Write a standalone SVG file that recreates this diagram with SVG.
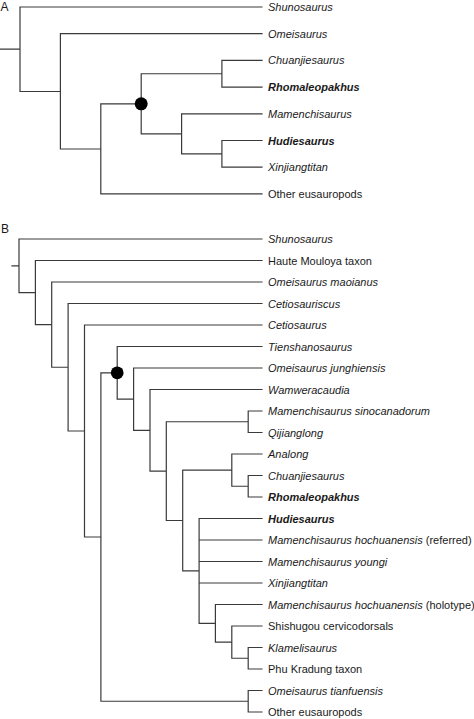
<svg xmlns="http://www.w3.org/2000/svg" width="474" height="719" viewBox="0 0 474 719">
<style>
text{font-family:"Liberation Sans",Arial,sans-serif;font-size:11px;fill:#1a1a1a}
.i{font-style:italic}
.b{font-style:italic;font-weight:bold}
.p{font-size:12px}
.ln{fill:none;stroke:#3a3a3a;stroke-width:1.2;stroke-linecap:square}
.dot{fill:#000}
</style>
<rect width="474" height="719" fill="#fff"/>
<g id="panel-labels">
<text class="p" x="0.5" y="10.5">A</text>
<text class="p" x="1" y="233">B</text>
</g>
<g id="connectors" class="ln">
<path d="M0,49.2H20M20,7V91.5M20,7H262M20,91.5H60.4M60.4,33.7V149M60.4,33.7H262M60.4,149H100.8M100.8,103.8V193.9M100.8,193.9H262M100.8,103.8H141.2M141.2,73.75V133.8M141.2,73.75H221.9M221.9,60.4V87.1M221.9,60.4H262M221.9,87.1H262M141.2,133.8H181.6M181.6,113.8V153.85M181.6,113.8H262M181.6,153.85H221.9M221.9,140.5V167.2M221.9,140.5H262M221.9,167.2H262"/>
<path d="M12,265.8H19M19,239V292.6M19,239H262M19,292.6H35.4M35.4,260.5V324.6M35.4,260.5H262M35.4,324.6H51.7M51.7,282V367.25M51.7,282H262M51.7,367.25H68.1M68.1,303.5V431M68.1,303.5H262M68.1,431H84.5M84.5,325V537M84.5,325H262M84.5,537H100.9M100.9,372.8V701.25M100.9,372.8H117.2M100.9,701.25H248.2M117.2,346.5V399.2M117.2,346.5H262M117.2,399.2H133.6M133.6,368V430.3M133.6,368H262M133.6,430.3H150M150,389.5V471.1M150,389.5H262M150,471.1H166.3M166.3,421.75V520.5M166.3,421.75H248.2M248.2,411V432.5M248.2,411H262M248.2,432.5H262M166.3,520.5H182.7M182.7,470.1V570.9M182.7,470.1H231.8M231.8,454V486.25M231.8,454H262M231.8,486.25H248.2M248.2,475.5V497M248.2,475.5H262M248.2,497H262M182.7,570.9H199.1M199.1,518.5V623.3M199.1,518.5H262M199.1,540H262M199.1,561.5H262M199.1,583H262M199.1,623.3H215.4M215.4,604.5V642.1M215.4,604.5H262M215.4,642.1H231.8M231.8,626V658.25M231.8,626H262M231.8,658.25H248.2M248.2,647.5V669M248.2,647.5H262M248.2,669H262M248.2,690.5V712M248.2,690.5H262M248.2,712H262"/>
</g>
<g id="nodeA-circle"><circle class="dot" cx="141.2" cy="103.8" r="6.5"/></g>
<g id="nodeB-circle"><circle class="dot" cx="117.2" cy="372.8" r="6.4"/></g>
<g id="a-shunosaurus"><text class="i" x="268" y="11">Shunosaurus</text></g>
<g id="a-omeisaurus"><text class="i" x="268" y="37.7">Omeisaurus</text></g>
<g id="a-chuanjiesaurus"><text class="i" x="268" y="64.4">Chuanjiesaurus</text></g>
<g id="a-rhomaleopakhus"><text class="b" x="268" y="91.1">Rhomaleopakhus</text></g>
<g id="a-mamenchisaurus"><text class="i" x="268" y="117.8">Mamenchisaurus</text></g>
<g id="a-hudiesaurus"><text class="b" x="268" y="144.5">Hudiesaurus</text></g>
<g id="a-xinjiangtitan"><text class="i" x="268" y="171.2">Xinjiangtitan</text></g>
<g id="a-other"><text x="268" y="197.9">Other eusauropods</text></g>
<g id="b-shunosaurus"><text class="i" x="268" y="243">Shunosaurus</text></g>
<g id="b-haute"><text x="268" y="264.5">Haute Mouloya taxon</text></g>
<g id="b-omaoianus"><text class="i" x="268" y="286">Omeisaurus maoianus</text></g>
<g id="b-cetiosauriscus"><text class="i" x="268" y="307.5">Cetiosauriscus</text></g>
<g id="b-cetiosaurus"><text class="i" x="268" y="329">Cetiosaurus</text></g>
<g id="b-tienshanosaurus"><text class="i" x="268" y="350.5">Tienshanosaurus</text></g>
<g id="b-ojunghiensis"><text class="i" x="268" y="372">Omeisaurus junghiensis</text></g>
<g id="b-wamweracaudia"><text class="i" x="268" y="393.5">Wamweracaudia</text></g>
<g id="b-msinocanadorum"><text class="i" x="268" y="415">Mamenchisaurus sinocanadorum</text></g>
<g id="b-qijianglong"><text class="i" x="268" y="436.5">Qijianglong</text></g>
<g id="b-analong"><text class="i" x="268" y="458">Analong</text></g>
<g id="b-chuanjiesaurus"><text class="i" x="268" y="479.5">Chuanjiesaurus</text></g>
<g id="b-rhomaleopakhus"><text class="b" x="268" y="501">Rhomaleopakhus</text></g>
<g id="b-hudiesaurus"><text class="b" x="268" y="522.5">Hudiesaurus</text></g>
<g id="b-mhoch-ref"><text x="268" y="544"><tspan class="i">Mamenchisaurus hochuanensis</tspan> (referred)</text></g>
<g id="b-myoungi"><text class="i" x="268" y="565.5">Mamenchisaurus youngi</text></g>
<g id="b-xinjiangtitan"><text class="i" x="268" y="587">Xinjiangtitan</text></g>
<g id="b-mhoch-holo"><text x="268" y="608.5"><tspan class="i">Mamenchisaurus hochuanensis</tspan> (holotype)</text></g>
<g id="b-shishugou"><text x="268" y="630">Shishugou cervicodorsals</text></g>
<g id="b-klamelisaurus"><text class="i" x="268" y="651.5">Klamelisaurus</text></g>
<g id="b-phukradung"><text x="268" y="673">Phu Kradung taxon</text></g>
<g id="b-otianfuensis"><text class="i" x="268" y="694.5">Omeisaurus tianfuensis</text></g>
<g id="b-other"><text x="268" y="716">Other eusauropods</text></g>
</svg>
